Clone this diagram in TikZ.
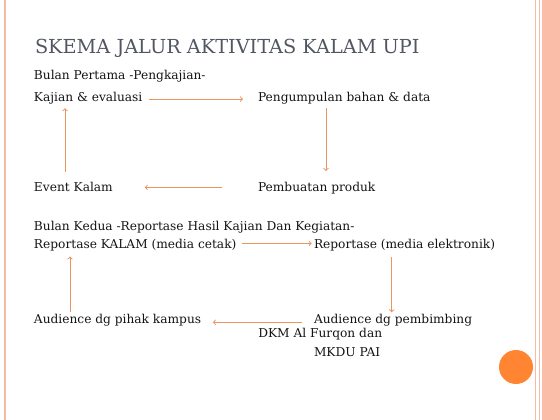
\documentclass[tikz,border=0pt]{standalone}
\usepackage{fontspec}
\setmainfont{DejaVu Serif}
\usetikzlibrary{positioning,calc,arrows}
\definecolor{arrorange}{RGB}{234,150,96}
\definecolor{framepink}{RGB}{246,186,168}
\definecolor{stripsalmon}{RGB}{250,190,168}
\definecolor{dotorange}{RGB}{255,133,51}
\definecolor{titlegray}{RGB}{82,86,96}
\definecolor{bodyblack}{RGB}{20,20,20}
\tikzset{txt/.style={inner sep=0, outer sep=0, anchor=base west, text height=8pt, text depth=2.5pt, text=bodyblack, font=\fontsize{12.2}{14}\selectfont}}
\tikzset{ttl/.style={inner sep=0, outer sep=0, anchor=base west, text=titlegray, font=\fontsize{19.3}{22}\selectfont}}
\tikzset{arr/.style={draw=arrorange, ->, line width=1pt}}

\begin{document}
\begin{tikzpicture}[x=1pt, y=-1pt, >=to]
	\useasboundingbox (0,0) rectangle (560,420);
	% slide frame
	\fill[stripsalmon] (542,0) rectangle (560,420);
	\draw[framepink, line width=1.5pt] (5,0) -- (5,420);
	\draw[framepink, line width=1pt] (535.5,0) -- (535.5,420);
	\draw[framepink, line width=1.5pt] (539.5,0) -- (539.5,420);
	\fill[dotorange] (516,367) circle (17pt);

	\node[ttl] (title) at (35,54) {SKEMA JALUR AKTIVITAS KALAM UPI};

	% bulan pertama
	\node[txt] (bulan1) at (34,80) {Bulan Pertama -Pengkajian-};
	\node[txt] (kajian) at (34,101.7) {Kajian \& evaluasi};
	\node[txt] (kumpul) at (258,101.7) {Pengumpulan bahan \& data};
	\node[txt] (produk) at (258,191) {Pembuatan produk};
	\node[txt] (event) at (34,191) {Event Kalam};
	\draw[arr, shorten <=7pt, shorten >=15pt] (kajian.mid east) -- (kumpul.mid west);
	\draw[arr, shorten <=4pt, shorten >=12pt] ([xshift=68pt]kumpul.south west)
		-- ([xshift=68pt]kumpul.south west |- produk.north);
	\draw[arr, shorten <=36pt, shorten >=32pt] ([yshift=1pt]produk.mid west) -- ([yshift=1pt]event.mid east);
	\draw[arr, shorten <=11pt, shorten >=4pt] ([xshift=31pt]event.north west)
		-- ([xshift=31pt]event.north west |- kajian.south);

	% bulan kedua
	\node[txt] (bulan2) at (34,230) {Bulan Kedua -Reportase Hasil Kajian Dan Kegiatan-};
	\node[txt] (cetak) at (34,248) {Reportase KALAM (media cetak)};
	\node[txt] (elektro) at (314,248) {Reportase (media elektronik)};
	\node[txt] (bimbing) at (314,323.3) {Audience dg pembimbing};
	\node[txt] (dkm) at (258.3,337.7) {DKM Al Furqon dan};
	\node[txt] (mkdu) at (314,356) {MKDU PAI};
	\node[txt] (kampus) at (34,323.3) {Audience dg pihak kampus};
	\draw[arr, shorten <=6pt, shorten >=2.3pt] ([yshift=2pt]cetak.mid east) -- ([yshift=2pt]elektro.mid west);
	\draw[arr, shorten <=6pt, shorten >=3pt] ([xshift=77.7pt]elektro.south west)
		-- ([xshift=77.7pt]elektro.south west |- bimbing.north);
	\draw[arr, shorten <=12.3pt, shorten >=11.7pt] ([yshift=-1.5pt]bimbing.mid west) -- ([yshift=-1.5pt]kampus.mid east);
	\draw[arr, shorten <=3.6pt, shorten >=6pt] ([xshift=36pt]kampus.north west)
		-- ([xshift=36pt]kampus.north west |- cetak.south);
\end{tikzpicture}
\end{document}
